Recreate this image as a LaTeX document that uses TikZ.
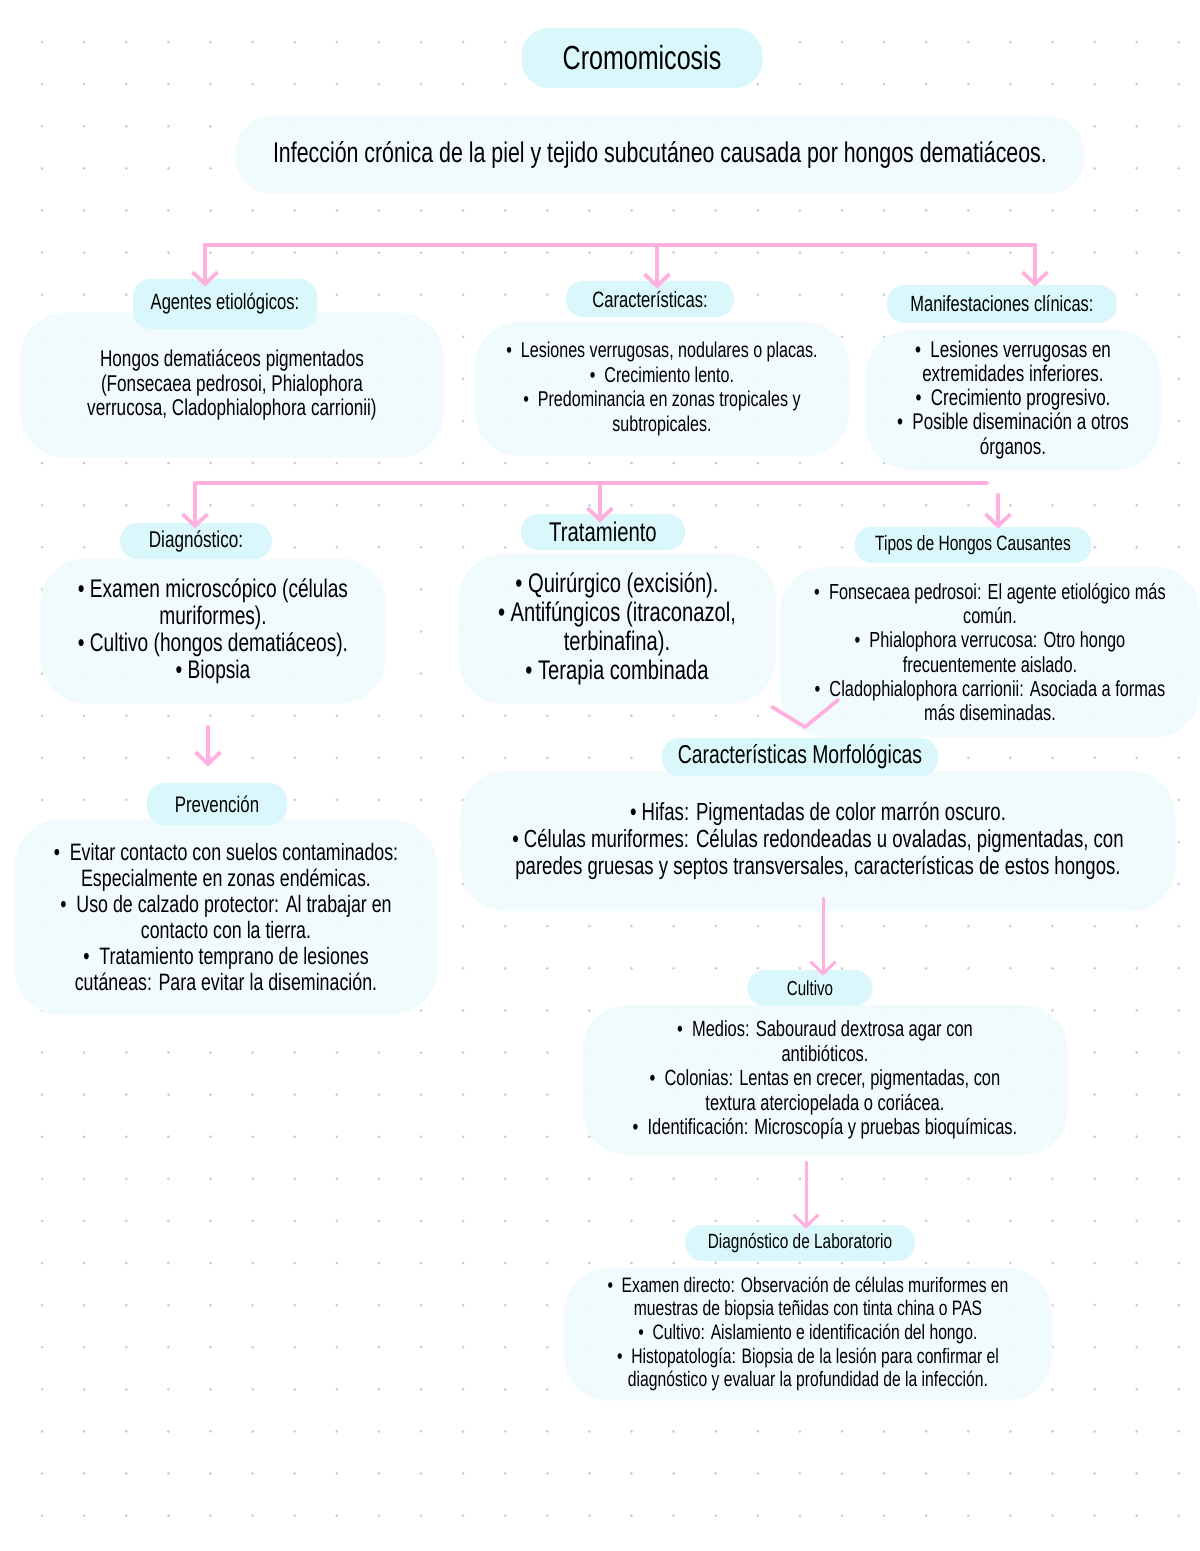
\documentclass[tikz,border=0pt]{standalone}
\usepackage{fontspec}
\setmainfont{Liberation Sans}[FakeStretch=0.75]
\usepackage{xcolor}
\definecolor{cromopill}{RGB}{218,248,252}
\definecolor{cromoblob}{RGB}{240,251,254}
\definecolor{cromopink}{RGB}{255,176,222}
\definecolor{cromodot}{RGB}{205,205,205}
\usetikzlibrary{positioning, arrows.meta, calc}
\newdimen\pxu \pxu=0.2mm
\newcommand{\fsz}[2]{\fontsize{#1}{#2}\selectfont}

\begin{document}
\begin{tikzpicture}[
    x=0.2mm, y=-0.2mm,
    blob/.style={fill=cromoblob, fill opacity=0.92, text opacity=1, rounded corners=9mm, inner sep=0pt, align=center},
    pill/.style={fill=cromopill, rounded corners=3.5mm, inner sep=0pt, align=center},
    bus/.style={draw=cromopink, line width=0.75mm, line cap=round},
    link/.style={bus, -{Straight Barb[length=2.4mm,width=5mm]}},
  ]
    \useasboundingbox (0,0) rectangle (1200,1551);
    \fill[white] (0,0) rectangle (1200,1551);

    % Cuadricula de puntos
    \foreach \i in {1,...,28}
      \foreach \j in {1,...,36}
        \fill[cromodot] (42.1*\i, 42.1*\j) circle[radius=0.3mm];

    % Titulo y definicion
    \node[pill, rounded corners=5.5mm, minimum width=241\pxu, minimum height=60\pxu, font=\fsz{19}{22}] (titulo) at (642,58) {Cromomicosis};
    \node[blob, rounded corners=7mm, minimum width=848\pxu, minimum height=77\pxu, font=\fsz{16.2}{18}] (definicion) at (660,155)
      {Infección crónica de la piel y tejido subcutáneo causada por hongos dematiáceos.};

    % Primera fila
    \node[blob, minimum width=423\pxu, minimum height=145\pxu, font=\fsz{13}{13.9}] (agentesbody) at (232,385)
      {Hongos dematiáceos pigmentados\\(Fonsecaea pedrosoi, Phialophora\\verrucosa, Cladophialophora carrionii)};
    \node[pill, minimum width=184\pxu, minimum height=50\pxu, font=\fsz{12.6}{14}] (agentes) at (225,304) {Agentes etiológicos:};

    \node[blob, minimum width=375\pxu, minimum height=134\pxu, font=\fsz{12.2}{13.9}] (caractbody) at (662,389)
      {•\ \ Lesiones verrugosas, nodulares o placas.\\•\ \ Crecimiento lento.\\•\ \ Predominancia en zonas tropicales y\\subtropicales.};
    \node[pill, minimum width=168\pxu, minimum height=36\pxu, font=\fsz{12.6}{14}] (caract) at (650,299) {Características:};

    \node[blob, minimum width=295\pxu, minimum height=140\pxu, font=\fsz{12.9}{13.7}] (manifbody) at (1013,400)
      {•\ \ Lesiones verrugosas en\\extremidades inferiores.\\•\ \ Crecimiento progresivo.\\•\ \ Posible diseminación a otros\\órganos.};
    \node[pill, minimum width=230\pxu, minimum height=38\pxu, font=\fsz{12.5}{14}] (manif) at (1002,304) {Manifestaciones clínicas:};

    % Segunda fila
    \node[blob, minimum width=345\pxu, minimum height=145\pxu, font=\fsz{14.5}{15.3}] (diagbody) at (213,631)
      {• Examen microscópico (células\\muriformes).\\• Cultivo (hongos dematiáceos).\\• Biopsia};
    \node[pill, minimum width=152\pxu, minimum height=36\pxu, font=\fsz{13}{14}] (diag) at (196,541) {Diagnóstico:};

    \node[blob, minimum width=317\pxu, minimum height=150\pxu, font=\fsz{15.3}{16.4}] (tratbody) at (617,629)
      {• Quirúrgico (excisión).\\• Antifúngicos (itraconazol,\\terbinafina).\\• Terapia combinada};
    \node[pill, minimum width=164\pxu, minimum height=36\pxu, font=\fsz{15.4}{17}] (trat) at (603,532) {Tratamiento};

    \node[blob, minimum width=420\pxu, minimum height=170\pxu, font=\fsz{12.4}{13.8}] (tiposbody) at (990,652)
      {•\ \ Fonsecaea pedrosoi: El agente etiológico más\\común.\\•\ \ Phialophora verrucosa: Otro hongo\\frecuentemente aislado.\\•\ \ Cladophialophora carrionii: Asociada a formas\\más diseminadas.};
    \node[pill, minimum width=237\pxu, minimum height=36\pxu, font=\fsz{11.8}{13}] (tipos) at (973,545) {Tipos de Hongos Causantes};

    % Prevencion
    \node[blob, minimum width=422\pxu, minimum height=195\pxu, font=\fsz{13.5}{14.8}] (prevbody) at (226,917)
      {•\ \ Evitar contacto con suelos contaminados:\\Especialmente en zonas endémicas.\\•\ \ Uso de calzado protector: Al trabajar en\\contacto con la tierra.\\•\ \ Tratamiento temprano de lesiones\\cutáneas: Para evitar la diseminación.};
    \node[pill, minimum width=140\pxu, minimum height=42\pxu, font=\fsz{12.8}{14}] (prev) at (217,804) {Prevención};

    % Columna derecha
    \node[blob, minimum width=715\pxu, minimum height=140\pxu, font=\fsz{14.1}{15.6}] (morfbody) at (818,841)
      {• Hifas: Pigmentadas de color marrón oscuro.\\• Células muriformes: Células redondeadas u ovaladas, pigmentadas, con\\paredes gruesas y septos transversales, características de estos hongos.};
    \node[pill, minimum width=276\pxu, minimum height=38\pxu, font=\fsz{14.7}{16}] (morf) at (800,757) {Características Morfológicas};

    \node[blob, minimum width=485\pxu, minimum height=150\pxu, font=\fsz{12.5}{14}] (cultivobody) at (825,1080)
      {•\ \ Medios: Sabouraud dextrosa agar con\\antibióticos.\\•\ \ Colonias: Lentas en crecer, pigmentadas, con\\textura aterciopelada o coriácea.\\•\ \ Identificación: Microscopía y pruebas bioquímicas.};
    \node[pill, minimum width=125\pxu, minimum height=36\pxu, font=\fsz{11.5}{13}] (cultivo) at (810,988) {Cultivo};

    \node[blob, minimum width=488\pxu, minimum height=133\pxu, font=\fsz{11.9}{13.4}] (labbody) at (808,1334)
      {•\ \ Examen directo: Observación de células muriformes en\\muestras de biopsia teñidas con tinta china o PAS\\•\ \ Cultivo: Aislamiento e identificación del hongo.\\•\ \ Histopatología: Biopsia de la lesión para confirmar el\\diagnóstico y evaluar la profundidad de la infección.};
    \node[pill, minimum width=230\pxu, minimum height=36\pxu, font=\fsz{11.7}{13}] (lab) at (800,1243) {Diagnóstico de Laboratorio};

    % Conectores
    \coordinate (busAl) at (205,245);
    \coordinate (busAm) at (657,245);
    \coordinate (busAr) at (1035,245);
    \draw[bus] (busAl) -- (busAr);
    \draw[link, shorten >=-1.6mm] (busAl) -- (busAl |- agentes.north);
    \draw[link, shorten >=-1.6mm] (busAm) -- (busAm |- caract.north);
    \draw[link, shorten >=-0.4mm] (busAr) -- (busAr |- manif.north);

    \coordinate (busBl) at (195,483);
    \coordinate (busBm) at (600,483);
    \coordinate (busBr) at (987,483);
    \coordinate (tiposin) at (998,495);
    \draw[bus] (busBl) -- (busBr);
    \draw[link, shorten >=-1.2mm] (busBl) -- (busBl |- diag.north);
    \draw[link, shorten >=-1.8mm] (busBm) -- (busBm |- trat.north);
    \draw[link, shorten >=-0.4mm] (tiposin) -- (tiposin |- tipos.north);

    \coordinate (previn) at (208,727);
    \draw[link, shorten >=3.2mm] (previn) -- (previn |- prev.north);

    \coordinate (morfl) at (772,707);
    \coordinate (morftip) at (805,727);
    \coordinate (morfr) at (838,700);
    \draw[bus, line join=round] (morfl) -- (morftip) -- (morfr);

    \coordinate (cultivoin) at (823,898);
    \draw[link, line width=0.6mm, shorten >=-1.2mm] (cultivoin) -- (cultivoin |- cultivo.north);

    \coordinate (labin) at (806,1162);
    \draw[link, line width=0.6mm, shorten >=-0.8mm] (labin) -- (labin |- lab.north);
  \end{tikzpicture}
\end{document}
